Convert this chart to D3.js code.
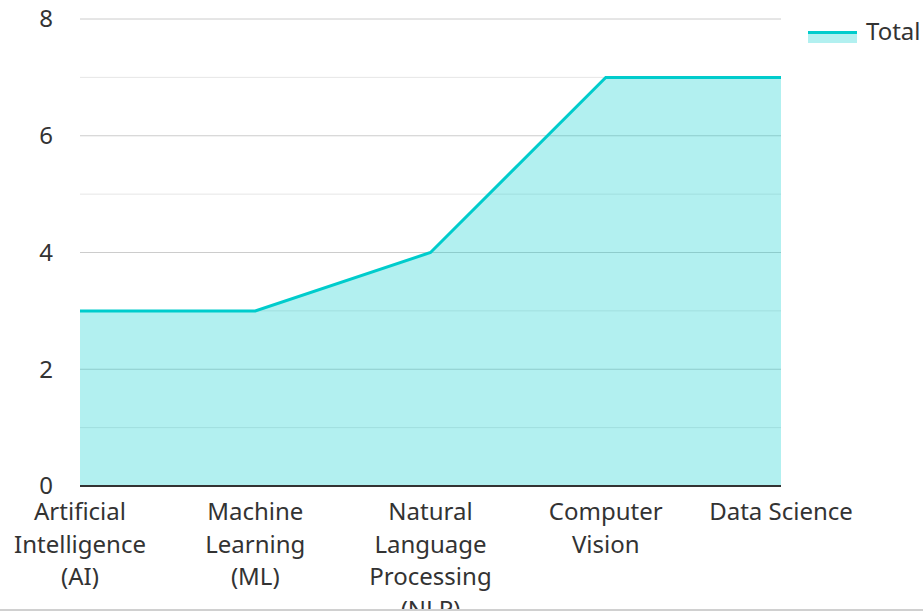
<!DOCTYPE html>
<html>
<head>
	<meta charset="utf-8">
	<title>Total by field</title>
	<script src="https://cdn.jsdelivr.net/npm/d3@7"></script>
	<style>
		body {
			margin: 0;
			font-family: "Noto Sans", "Open Sans", sans-serif;
			background: #fff;
		}
	</style>
</head>
<body>
	<div id="chart"></div>
	<script>

		// data

		const categories = [
			"Artificial Intelligence (AI)",
			"Machine Learning (ML)",
			"Natural Language Processing (NLP)",
			"Computer Vision",
			"Data Science"
		];
		const totals = [3, 3, 4, 7, 7];
		const yTicks = [0, 2, 4, 6, 8];
		const yMinorTicks = [1, 3, 5, 7];

		const width = 923;
		const height = 611;
		const margin = {top: 19, right: 142, bottom: 125, left: 80};
		const color = "#00cccc";
		const fontSize = 24;

		const svg = d3.select("#chart")
			.append("svg")
			.attr("width", width)
			.attr("height", height)
			.attr("font-family", "'Noto Sans', 'Open Sans', sans-serif");

		const x = d3.scalePoint()
			.domain(categories)
			.range([margin.left, width - margin.right]);

		const y = d3.scaleLinear()
			.domain([0, 8])
			.range([height - margin.bottom, margin.top]);

		// grid lines (under the translucent fill)
		svg.append("g")
			.selectAll("line")
			.data(yMinorTicks)
			.join("line")
			.attr("x1", margin.left)
			.attr("x2", width - margin.right)
			.attr("y1", d => y(d))
			.attr("y2", d => y(d))
			.attr("stroke", "#e6e6e6")
			.attr("stroke-width", 1);

		svg.append("g")
			.selectAll("line")
			.data(yTicks.filter(d => d > 0))
			.join("line")
			.attr("x1", margin.left)
			.attr("x2", width - margin.right)
			.attr("y1", d => y(d))
			.attr("y2", d => y(d))
			.attr("stroke", "#cccccc")
			.attr("stroke-width", 1);

		// area + line
		const area = d3.area()
			.x((d, i) => x(categories[i]))
			.y0(y(0))
			.y1(d => y(d));

		const line = d3.line()
			.x((d, i) => x(categories[i]))
			.y(d => y(d));

		svg.append("path")
			.datum(totals)
			.attr("fill", color)
			.attr("fill-opacity", 0.3)
			.attr("d", area);

		svg.append("path")
			.datum(totals)
			.attr("fill", "none")
			.attr("stroke", color)
			.attr("stroke-width", 3)
			.attr("d", line);

		// x baseline
		svg.append("line")
			.attr("x1", margin.left)
			.attr("x2", width - margin.right)
			.attr("y1", y(0))
			.attr("y2", y(0))
			.attr("stroke", "#333")
			.attr("stroke-width", 2);

		// y tick labels
		svg.append("g")
			.selectAll("text")
			.data(yTicks)
			.join("text")
			.attr("x", 46)
			.attr("y", d => y(d))
			.attr("dy", "0.35em")
			.attr("text-anchor", "middle")
			.attr("font-size", fontSize)
			.attr("fill", "#333")
			.text(d => d);

		// x labels, wrapped
		function wrap(label) {
			const words = label.split(" ");
			const lines = [];
			let cur = "";
			words.forEach(w => {
				const test = cur ? cur + " " + w : w;
				if (test.length > 12 && cur) {
					lines.push(cur);
					cur = w;
				} else cur = test;
			});
			lines.push(cur);
			return lines;
		}

		const xl = svg.append("g")
			.selectAll("text")
			.data(categories)
			.join("text")
			.attr("x", d => x(d))
			.attr("y", y(0) + 34)
			.attr("text-anchor", "middle")
			.attr("font-size", fontSize)
			.attr("fill", "#333");

		xl.selectAll("tspan")
			.data(d => wrap(d).map(t => ({t, px: x(d)})))
			.join("tspan")
			.attr("x", d => d.px)
			.attr("dy", (d, i) => i === 0 ? 0 : 32.5)
			.text(d => d.t);

		// legend
		const lg = svg.append("g").attr("transform", "translate(808,31)");
		lg.append("rect")
			.attr("width", 49)
			.attr("height", 12)
			.attr("fill", color)
			.attr("fill-opacity", 0.3);
		lg.append("line")
			.attr("x1", 0)
			.attr("x2", 49)
			.attr("y1", 1.5)
			.attr("y2", 1.5)
			.attr("stroke", color)
			.attr("stroke-width", 3);
		lg.append("text")
			.attr("x", 58)
			.attr("y", 9)
			.attr("font-size", fontSize)
			.attr("fill", "#333")
			.text("Total");

		// bottom border
		svg.append("rect")
			.attr("x", 0)
			.attr("y", height - 2)
			.attr("width", width)
			.attr("height", 2)
			.attr("fill", "#d0d0d0");

	</script>
</body>
</html>
